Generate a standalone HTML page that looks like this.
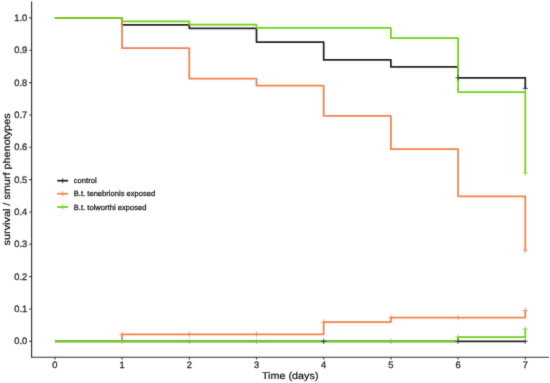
<!DOCTYPE html>
<html><head><meta charset="utf-8"><title>Survival</title>
<style>
html,body{margin:0;padding:0;background:#fff;}
body{width:550px;height:383px;overflow:hidden;}
svg{display:block;font-family:"Liberation Sans",Arial,Helvetica,sans-serif;}
text{text-rendering:geometricPrecision;}
.tk{stroke-width:0.32px;}
.lg{stroke-width:0.26px;}
.ti{stroke-width:0.22px;}
</style></head><body>
<svg width="550" height="383" viewBox="0 0 550 383">
<defs><filter id="soft" x="0" y="0" width="550" height="383" filterUnits="userSpaceOnUse" color-interpolation-filters="sRGB"><feConvolveMatrix order="3" kernelMatrix="0.0121 0.0858 0.0121 0.0858 0.6084 0.0858 0.0121 0.0858 0.0121" divisor="1" edgeMode="duplicate" preserveAlpha="false"/></filter></defs>
<g filter="url(#soft)">
<rect width="550" height="383" fill="#fff"/>
<path d="M31.6 2.1V357.2H548.4" stroke="#333333" stroke-width="1.15" fill="none" stroke-linecap="square"/>
<path d="M29.3 341.35H31.6M29.3 309.0H31.6M29.3 276.66H31.6M29.3 244.32H31.6M29.3 211.97H31.6M29.3 179.63H31.6M29.3 147.28H31.6M29.3 114.94H31.6M29.3 82.59H31.6M29.3 50.25H31.6M29.3 17.9H31.6M54.9 357.2V359.6M122.1 357.2V359.6M189.3 357.2V359.6M256.5 357.2V359.6M323.7 357.2V359.6M390.9 357.2V359.6M458.1 357.2V359.6M525.3 357.2V359.6" stroke="#333333" stroke-width="1.1" fill="none"/>
<path d="M54.9 17.9 H122.1 V24.9 H189.3 V28.3 H256.5 V42.2 H323.7 V59.9 H390.9 V66.9 H458.1 V77.8 H525.3 V88.4" stroke="#242424" stroke-width="1.75" fill="none" stroke-linejoin="round" stroke-linecap="butt"/>
<path d="M54.9 341.35 H122.1 V341.35 H189.3 V341.35 H256.5 V341.35 H323.7 V341.35 H390.9 V341.35 H458.1 V341.35 H525.3" stroke="#242424" stroke-width="1.75" fill="none" stroke-linejoin="round" stroke-linecap="butt"/>
<path d="M54.9 17.9 H122.1 V48.0 H189.3 V78.7 H256.5 V85.7 H323.7 V115.9 H390.9 V149.2 H458.1 V196.4 H525.3 V250.2" stroke="#f58049" stroke-width="1.75" fill="none" stroke-linejoin="round" stroke-linecap="butt"/>
<path d="M122.1 341.35 V334.3L122.1 334.3 H189.3 V334.3 H256.5 V334.3 H323.7 V322.0 H390.9 V317.5 H458.1 V317.5 H525.3 V310.4" stroke="#f58049" stroke-width="1.75" fill="none" stroke-linejoin="round" stroke-linecap="butt"/>
<path d="M54.9 17.9 H122.1 V21.25 H189.3 V24.6 H256.5 V27.9 H323.7 V27.9 H390.9 V38.0 H458.1 V92.0 H525.3 V173.0" stroke="#72d018" stroke-width="1.75" fill="none" stroke-linejoin="round" stroke-linecap="butt"/>
<path d="M54.9 341.35 H122.1 V341.35 H189.3 V341.35 H256.5 V341.35 H323.7 V341.35 H390.9 V341.35 H458.1 V337.2 H525.3 V329.0" stroke="#72d018" stroke-width="1.75" fill="none" stroke-linejoin="round" stroke-linecap="butt"/>
<path d="M455.40 77.8H460.80M458.1 75.10V80.50" stroke="#242424" stroke-width="0.72" fill="none"/>
<path d="M522.60 88.4H528.00M525.3 85.70V91.10" stroke="#242424" stroke-width="0.72" fill="none"/>
<path d="M522.60 250.2H528.00M525.3 247.50V252.90" stroke="#f58049" stroke-width="0.72" fill="none"/>
<path d="M522.60 173.0H528.00M525.3 170.30V175.70" stroke="#72d018" stroke-width="0.72" fill="none"/>
<path d="M119.40 334.3H124.80M122.1 331.60V337.00" stroke="#f58049" stroke-width="0.72" fill="none"/>
<path d="M186.60 334.3H192.00M189.3 331.60V337.00" stroke="#f58049" stroke-width="0.72" fill="none"/>
<path d="M253.80 334.3H259.20M256.5 331.60V337.00" stroke="#f58049" stroke-width="0.72" fill="none"/>
<path d="M321.00 322.0H326.40M323.7 319.30V324.70" stroke="#f58049" stroke-width="0.72" fill="none"/>
<path d="M388.20 317.5H393.60M390.9 314.80V320.20" stroke="#f58049" stroke-width="0.72" fill="none"/>
<path d="M455.40 317.5H460.80M458.1 314.80V320.20" stroke="#f58049" stroke-width="0.72" fill="none"/>
<path d="M522.60 310.4H528.00M525.3 307.70V313.10" stroke="#f58049" stroke-width="0.72" fill="none"/>
<path d="M119.40 341.35H124.80M122.1 338.65V344.05" stroke="#72d018" stroke-width="0.72" fill="none"/>
<path d="M186.60 341.35H192.00M189.3 338.65V344.05" stroke="#72d018" stroke-width="0.72" fill="none"/>
<path d="M253.80 341.35H259.20M256.5 338.65V344.05" stroke="#72d018" stroke-width="0.72" fill="none"/>
<path d="M388.20 341.35H393.60M390.9 338.65V344.05" stroke="#72d018" stroke-width="0.72" fill="none"/>
<path d="M455.40 337.2H460.80M458.1 334.50V339.90" stroke="#72d018" stroke-width="0.72" fill="none"/>
<path d="M522.60 329.0H528.00M525.3 326.30V331.70" stroke="#72d018" stroke-width="0.72" fill="none"/>
<path d="M321.00 341.35H326.40M323.7 338.65V344.05" stroke="#242424" stroke-width="0.72" fill="none"/>
<path d="M455.40 341.35H460.80M458.1 338.65V344.05" stroke="#242424" stroke-width="0.72" fill="none"/>
<path d="M522.60 341.35H528.00M525.3 338.65V344.05" stroke="#242424" stroke-width="0.72" fill="none"/>
<path d="M57.2 180.7H68.2" stroke="#242424" stroke-width="1.75" fill="none"/>
<path d="M60.00 180.7H65.40M62.7 178.00V183.40" stroke="#242424" stroke-width="0.72" fill="none"/>
<text x="73.8" y="183.35" font-size="7.6" class="lg" fill="#1a1a1a" stroke="#1a1a1a">control</text>
<path d="M57.2 193.7H68.2" stroke="#f58049" stroke-width="1.75" fill="none"/>
<path d="M60.00 193.7H65.40M62.7 191.00V196.40" stroke="#f58049" stroke-width="0.72" fill="none"/>
<text x="73.8" y="196.35" font-size="7.6" class="lg" fill="#1a1a1a" stroke="#1a1a1a">B.t. tenebrionis exposed</text>
<path d="M57.2 207.0H68.2" stroke="#72d018" stroke-width="1.75" fill="none"/>
<path d="M60.00 207.0H65.40M62.7 204.30V209.70" stroke="#72d018" stroke-width="0.72" fill="none"/>
<text x="73.8" y="209.65" font-size="7.6" class="lg" fill="#1a1a1a" stroke="#1a1a1a">B.t. tolworthi exposed</text>
<text x="27.3" y="344.40" text-anchor="end" font-size="9.3" class="tk" fill="#303030" stroke="#303030">0.0</text>
<text x="27.3" y="312.05" text-anchor="end" font-size="9.3" class="tk" fill="#303030" stroke="#303030">0.1</text>
<text x="27.3" y="279.71" text-anchor="end" font-size="9.3" class="tk" fill="#303030" stroke="#303030">0.2</text>
<text x="27.3" y="247.37" text-anchor="end" font-size="9.3" class="tk" fill="#303030" stroke="#303030">0.3</text>
<text x="27.3" y="215.02" text-anchor="end" font-size="9.3" class="tk" fill="#303030" stroke="#303030">0.4</text>
<text x="27.3" y="182.68" text-anchor="end" font-size="9.3" class="tk" fill="#303030" stroke="#303030">0.5</text>
<text x="27.3" y="150.33" text-anchor="end" font-size="9.3" class="tk" fill="#303030" stroke="#303030">0.6</text>
<text x="27.3" y="117.99" text-anchor="end" font-size="9.3" class="tk" fill="#303030" stroke="#303030">0.7</text>
<text x="27.3" y="85.64" text-anchor="end" font-size="9.3" class="tk" fill="#303030" stroke="#303030">0.8</text>
<text x="27.3" y="53.30" text-anchor="end" font-size="9.3" class="tk" fill="#303030" stroke="#303030">0.9</text>
<text x="27.3" y="20.95" text-anchor="end" font-size="9.3" class="tk" fill="#303030" stroke="#303030">1.0</text>
<text x="54.9" y="367.95" text-anchor="middle" font-size="9.3" class="tk" fill="#303030" stroke="#303030">0</text>
<text x="122.1" y="367.95" text-anchor="middle" font-size="9.3" class="tk" fill="#303030" stroke="#303030">1</text>
<text x="189.3" y="367.95" text-anchor="middle" font-size="9.3" class="tk" fill="#303030" stroke="#303030">2</text>
<text x="256.5" y="367.95" text-anchor="middle" font-size="9.3" class="tk" fill="#303030" stroke="#303030">3</text>
<text x="323.7" y="367.95" text-anchor="middle" font-size="9.3" class="tk" fill="#303030" stroke="#303030">4</text>
<text x="390.9" y="367.95" text-anchor="middle" font-size="9.3" class="tk" fill="#303030" stroke="#303030">5</text>
<text x="458.1" y="367.95" text-anchor="middle" font-size="9.3" class="tk" fill="#303030" stroke="#303030">6</text>
<text x="525.3" y="367.95" text-anchor="middle" font-size="9.3" class="tk" fill="#303030" stroke="#303030">7</text>
<text transform="translate(290.2 379.3) scale(1 0.91)" text-anchor="middle" font-size="10.8" class="ti" fill="#111" stroke="#111">Time (days)</text>
<text transform="translate(10.35 179.4) rotate(-90) scale(1 0.9)" text-anchor="middle" font-size="10.85" class="ti" fill="#111" stroke="#111">survival / smurf phenotypes</text>
</g>
</svg>
</body></html>
